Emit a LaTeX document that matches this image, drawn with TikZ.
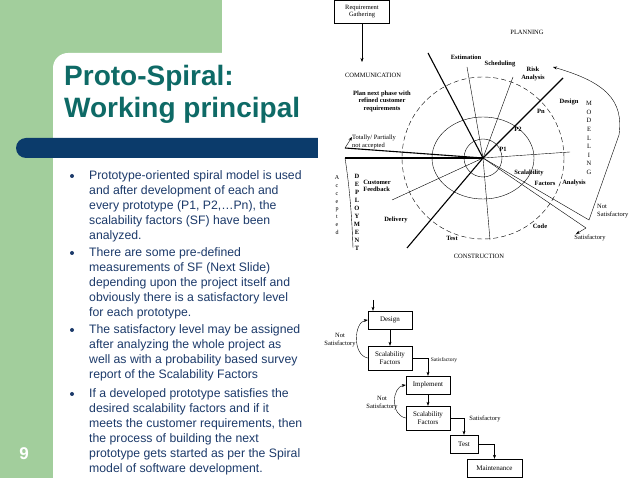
\documentclass[tikz,border=0pt]{standalone}
\usepackage{fontspec}
\setmainfont{Liberation Sans}
\newfontfamily\serif{Liberation Serif}
\usetikzlibrary{arrows.meta}
\definecolor{sgreen}{HTML}{A2CE9C}
\definecolor{navy}{HTML}{0B3B6B}
\definecolor{teal2}{HTML}{0E6A66}
\definecolor{txt}{HTML}{1C3A6A}
\begin{document}
\begin{tikzpicture}[x=1pt,y=-1pt,
  bl/.style={anchor=west,inner sep=0pt,font=\fontsize{12.25}{14}\selectfont,text=txt},
  lb/.style={inner sep=0pt,font=\serif\fontsize{6.5}{7.5}\selectfont\bfseries,align=center},
  ln/.style={inner sep=0pt,font=\serif\fontsize{6.5}{7.5}\selectfont,align=center},
  vt/.style={inner sep=0pt,font=\serif\fontsize{6.5}{8.6}\selectfont,align=center},
  bx/.style={draw,inner sep=0pt,font=\serif\fontsize{7}{8.5}\selectfont,align=center},
  thk/.style={line width=1.1pt},
  thn/.style={line width=0.4pt},
  ar/.style={-{Stealth[length=4pt,width=3pt]}}]
\useasboundingbox (0,0) rectangle (638,478);
\fill[sgreen] (0,0) rectangle (222,478);
\fill[white] (53,478) -- (53,68) arc[start angle=180,end angle=270,radius=15] -- (320,53) -- (320,478) -- cycle;
\fill[navy,rounded corners=10pt] (16,138) rectangle (340,158);
\fill[white] (318,0) rectangle (638,478);
\node[anchor=west,inner sep=0pt,text=teal2,font=\fontsize{28}{32}\selectfont\bfseries,align=left] (title) at (64,94) {Proto-Spiral:\\Working principal};
\node[text=white,font=\fontsize{17}{20}\selectfont\bfseries] (num) at (24,454) {9};
% bullets
\foreach \y in {176,253,330,394} \fill[txt] (72,\y) circle (2);
\node[bl] (a1) at (89,176) {Prototype-oriented spiral model is used};
\node[bl] (a2) at (89,191) {and after development of each and};
\node[bl] (a3) at (89,206) {every prototype (P1, P2,…Pn), the};
\node[bl] (a4) at (89,221) {scalability factors (SF) have been};
\node[bl] (a5) at (89,236) {analyzed.};
\node[bl] (b1) at (89,253) {There are some pre-defined};
\node[bl] (b2) at (89,268) {measurements of SF (Next Slide)};
\node[bl] (b3) at (89,283) {depending upon the project itself and};
\node[bl] (b4) at (89,298) {obviously there is a satisfactory level};
\node[bl] (b5) at (89,313) {for each prototype.};
\node[bl] (c1) at (89,330) {The satisfactory level may be assigned};
\node[bl] (c2) at (89,345) {after analyzing the whole project as};
\node[bl] (c3) at (89,360) {well as with a probability based survey};
\node[bl] (c4) at (89,375) {report of the Scalability Factors};
\node[bl] (d1) at (89,394) {If a developed prototype satisfies the};
\node[bl] (d2) at (89,409) {desired scalability factors and if it};
\node[bl] (d3) at (89,424) {meets the customer requirements, then};
\node[bl] (d4) at (89,439) {the process of building the next};
\node[bl] (d5) at (89,454) {prototype gets started as per the Spiral};
\node[bl] (d6) at (89,469) {model of software development.};
% spiral
\coordinate (c) at (483,158);
\draw[thn] (c) circle (19);
\draw[thn] (c) ellipse (51 and 41);
\draw[thn,dashed,dash pattern=on 5pt off 3pt] (c) circle (81);
\draw[thn] (c) -- (513,77);
\draw[thn] (c) -- (467,67);
\draw[thn] (c) -- (570,152);
\draw[thn] (c) -- (490,240);
\draw[thn] (c) -- (392,200);
\draw[thk] (c) -- (428,53);
\draw[thk] (c) -- (563,78);
\draw[thk] (c) -- (407,248);
\draw[thk] (c) -- (345,158);
\draw[thk] (c) -- (345,148);
\coordinate (tp) at (352,137);
\draw[thn,ar] (345,148) -- (tp);
\draw[thn] (345,158) .. controls (350,190) and (352,220) .. (353,248);
\draw[thn] (c) -- (589,220);
\draw[thn] (c) -- (586,228);
\coordinate (ra) at (553,67);
\draw[thn,ar] (589,220) -- (619,135) .. controls (624,100) and (605,82) .. (ra);
\coordinate (sat) at (576,234);
\draw[thn,ar] (586,228) -- (sat);
% spiral labels
\node[draw,thn,ln,minimum width=55pt,minimum height=23pt] (rg) at (362,11.5) {Requirement\\Gathering};
\coordinate (cm) at (362,62);
\draw[thn,ar] (rg) -- (cm);
\node[ln] (pl) at (527,32) {PLANNING};
\node[ln] (com) at (373,75) {COMMUNICATION};
\node[lb] (est) at (466,57) {Estimation};
\node[lb] (sch) at (500,64) {Scheduling};
\node[lb] (risk) at (533,74) {Risk\\Analysis};
\node[lb] (plan) at (382,101) {Plan next phase with\\refined customer\\requirements};
\node[lb] (des) at (569,102) {Design};
\node[vt] (mod) at (589,138) {M\\O\\D\\E\\L\\L\\I\\N\\G};
\node[lb] (pn) at (541,111) {Pn};
\node[lb] (p2) at (518,129) {P2};
\node[lb] (p1) at (503,149) {P1};
\node[ln,align=left] (tot) at (374,142) {Totally/ Partially\\not accepted};
\node[lb] (sca) at (529,173) {Scalability};
\node[lb] (fac) at (545,183) {Factors};
\node[lb] (ana) at (574,183) {Analysis};
\node[ln,align=left,anchor=west] (ns) at (597,211) {Not\\Satisfactory};
\node[lb] (code) at (540,226) {Code};
\node[ln] (satl) at (590,238) {Satisfactory};
\node[lb] (test) at (452,238) {Test};
\node[ln] (con) at (479,256) {CONSTRUCTION};
\node[lb] (del) at (396,220) {Delivery};
\node[lb,align=left] (cf) at (377,186) {Customer\\Feedback};
\node[vt,font=\serif\fontsize{6.5}{8}\selectfont\bfseries] (dep) at (357,212) {D\\E\\P\\L\\O\\Y\\M\\E\\N\\T};
\node[vt,font=\serif\fontsize{6}{7.8}\selectfont] (acc) at (337,205) {A\\c\\c\\e\\p\\t\\e\\d};
% flowchart
\node[bx,minimum width=44pt,minimum height=18pt] (f1) at (390,320) {Design};
\node[bx,minimum width=44pt,minimum height=24pt] (f2) at (390,358) {Scalability\\Factors};
\node[bx,minimum width=44pt,minimum height=18pt] (f3) at (428,385) {Implement};
\node[bx,minimum width=44pt,minimum height=24pt] (f4) at (428,418) {Scalability\\Factors};
\node[bx,minimum width=28pt,minimum height=18pt] (f5) at (464,444) {Test};
\node[bx,minimum width=55pt,minimum height=18pt] (f6) at (494.5,468) {Maintenance};
\coordinate (ft) at (373,300);
\draw[thn,ar] (ft) -- (f1.north -| ft);
\draw[thn,ar] (f1) -- (f2);
\draw[thn,ar] (f2.west) .. controls (352,355) and (354,322) .. (f1.west);
\node[ln] (n1) at (340,340) {Not\\Satisfactory};
\draw[thn,ar] (f2.east) -| (f3.north);
\node[ln,font=\serif\fontsize{5.5}{6}\selectfont] (s1) at (444,360) {Satisfactory};
\draw[thn,ar] (f3) -- (f4);
\draw[thn,ar] (f4.west) .. controls (390,415) and (392,387) .. (f3.west);
\node[ln] (n2) at (382,403) {Not\\Satisfactory};
\draw[thn,ar] (f4.east) -| (f5.north);
\node[ln] (s2) at (485,419) {Satisfactory};
\draw[thn,ar] (f5.east) -| (f6.north);
\end{tikzpicture}
\end{document}
